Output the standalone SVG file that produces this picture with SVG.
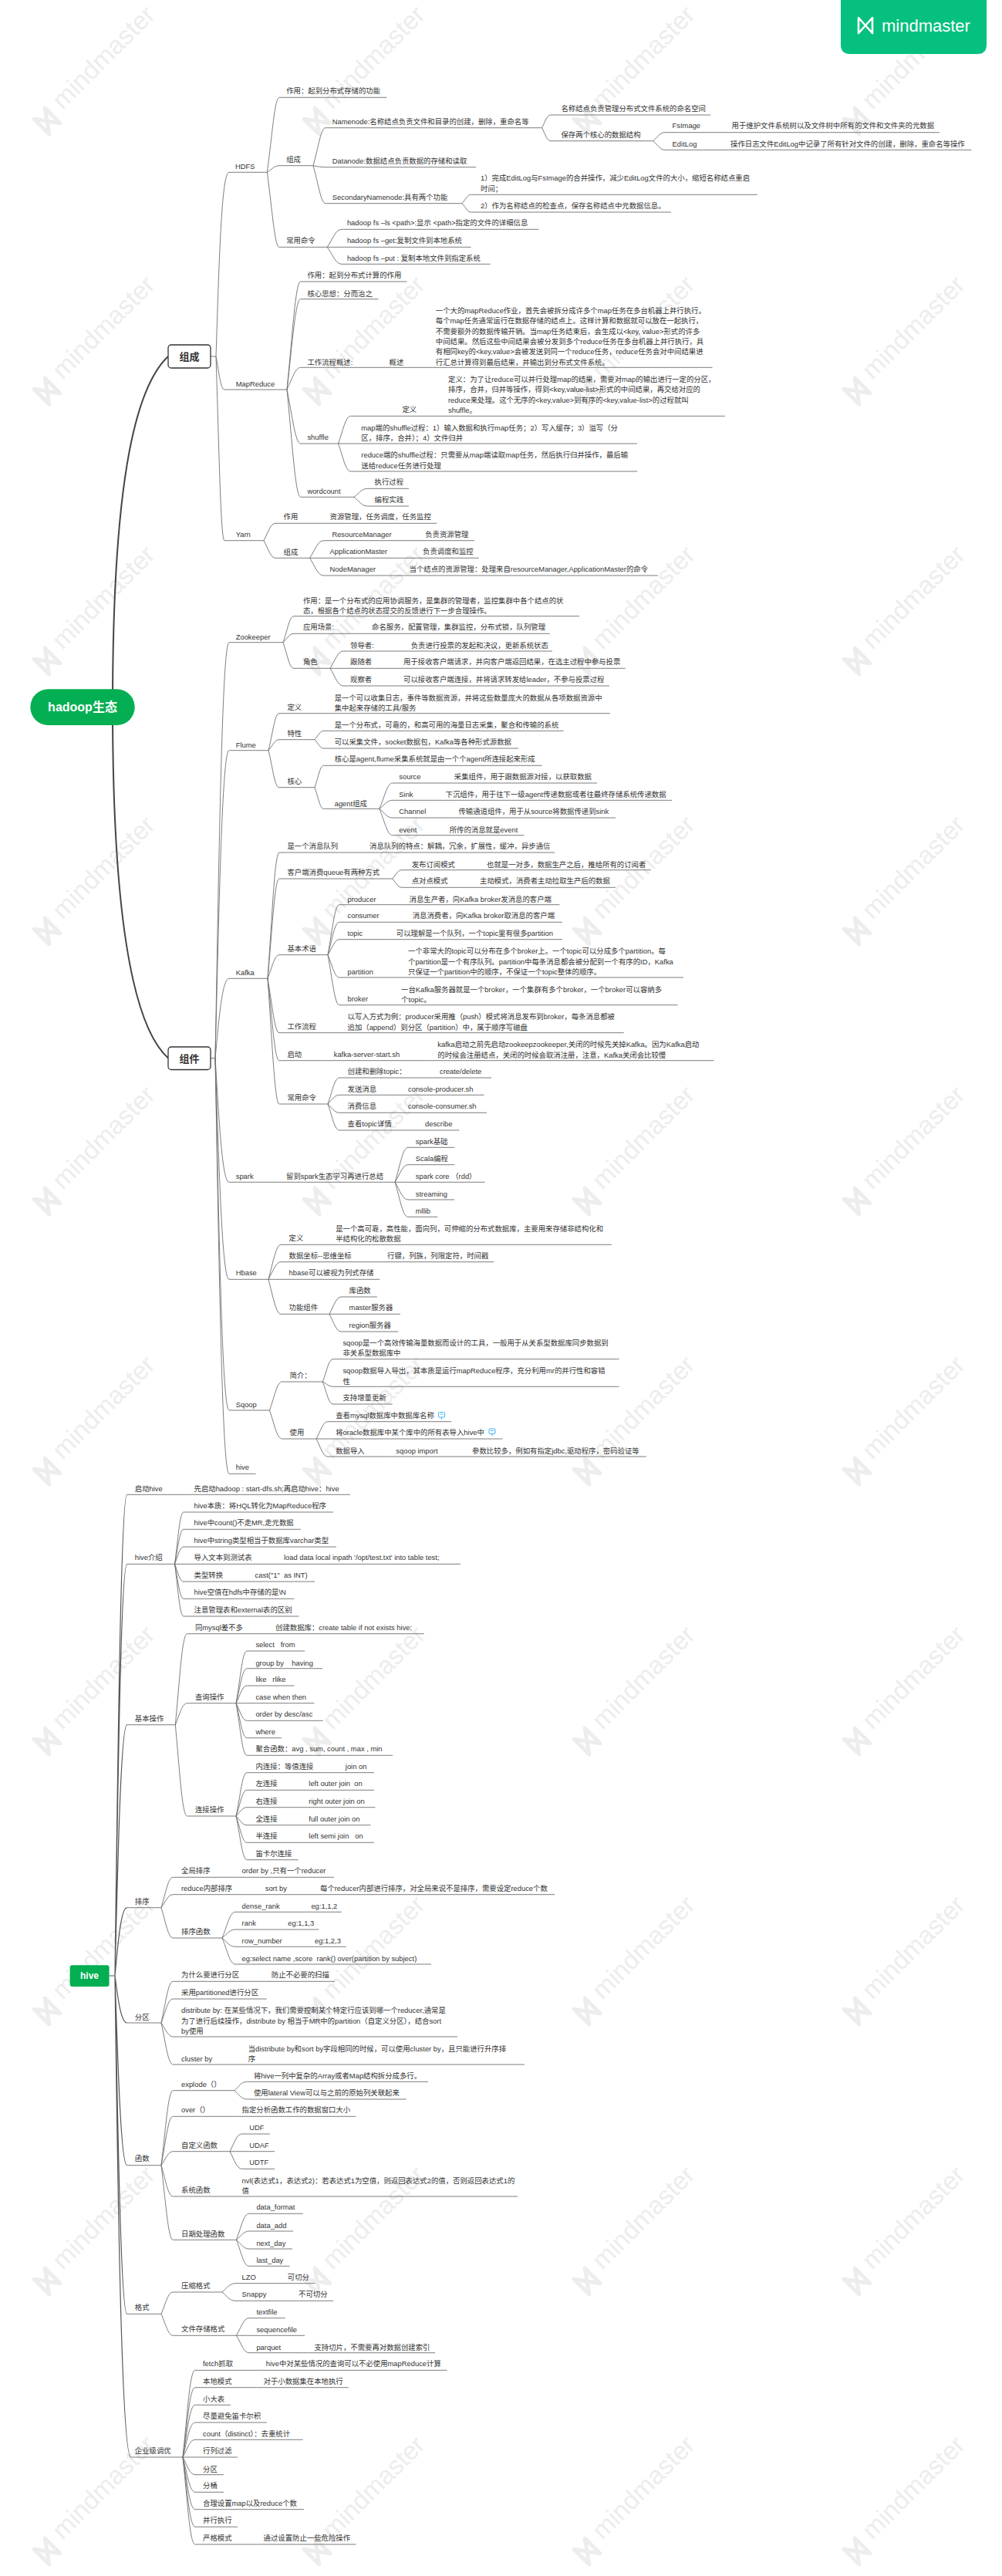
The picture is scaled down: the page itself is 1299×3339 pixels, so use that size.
<svg xmlns="http://www.w3.org/2000/svg" xmlns:xlink="http://www.w3.org/1999/xlink" width="1299" height="3339" viewBox="0 0 1299 3339">
<style>
text{font-family:"Liberation Sans","Noto Sans CJK SC",sans-serif;font-size:9.4px;fill:#333;dominant-baseline:central;white-space:pre}
#nodes path{fill:none;stroke:#6e6e6e;stroke-width:.9}
#connectors path{fill:none;stroke:#6e6e6e;stroke-width:.9}
#connectors .t{stroke:#444;stroke-width:2}
#connectors .h{stroke:#555;stroke-width:1.2}
.box{fill:#fff;stroke:#333;stroke-width:1.3}
.big{font-size:13px;font-weight:bold;text-anchor:middle}
.wt{font-size:33px;fill:#ededed;dominant-baseline:auto}
.wl{fill:none;stroke:#ededed;stroke-width:5;stroke-linejoin:round}
.note{fill:none;stroke:#3db4f2;stroke-width:1}
</style>
<defs>
<g id="wm"><path class="wl" d="M-10 -14L10 14V-14L-10 14Z" transform="rotate(-45)"/><text class="wt" transform="translate(20 -14) rotate(-45)">mindmaster</text></g>
</defs>
<rect width="1299" height="3339" fill="#fff"/>
<g id="watermark">
<use href="#wm" x="61" y="157"/><use href="#wm" x="411" y="157"/><use href="#wm" x="761" y="157"/><use href="#wm" x="1111" y="157"/>
<use href="#wm" x="61" y="507"/><use href="#wm" x="411" y="507"/><use href="#wm" x="761" y="507"/><use href="#wm" x="1111" y="507"/>
<use href="#wm" x="61" y="857"/><use href="#wm" x="411" y="857"/><use href="#wm" x="761" y="857"/><use href="#wm" x="1111" y="857"/>
<use href="#wm" x="61" y="1207"/><use href="#wm" x="411" y="1207"/><use href="#wm" x="761" y="1207"/><use href="#wm" x="1111" y="1207"/>
<use href="#wm" x="61" y="1557"/><use href="#wm" x="411" y="1557"/><use href="#wm" x="761" y="1557"/><use href="#wm" x="1111" y="1557"/>
<use href="#wm" x="61" y="1907"/><use href="#wm" x="411" y="1907"/><use href="#wm" x="761" y="1907"/><use href="#wm" x="1111" y="1907"/>
<use href="#wm" x="61" y="2257"/><use href="#wm" x="411" y="2257"/><use href="#wm" x="761" y="2257"/><use href="#wm" x="1111" y="2257"/>
<use href="#wm" x="61" y="2607"/><use href="#wm" x="411" y="2607"/><use href="#wm" x="761" y="2607"/><use href="#wm" x="1111" y="2607"/>
<use href="#wm" x="61" y="2957"/><use href="#wm" x="411" y="2957"/><use href="#wm" x="761" y="2957"/><use href="#wm" x="1111" y="2957"/>
<use href="#wm" x="61" y="3307"/><use href="#wm" x="411" y="3307"/><use href="#wm" x="761" y="3307"/><use href="#wm" x="1111" y="3307"/>
</g>
<g id="brand">
<path d="M1090 0H1279V58Q1279 70 1267 70H1102Q1090 70 1090 58Z" fill="#06c07f"/>
<path d="M1113 23L1131 43V23L1113 43Z" fill="none" stroke="#fff" stroke-width="2.6" stroke-linejoin="round"/>
<text x="1143" y="33" style="font-size:22px;fill:#fff">mindmaster</text>
</g>
<g id="connectors">
<path class="t" d="M146 916C146 640 172 505 218 462"/>
<path class="t" d="M146 916C146 1190 172 1330 218 1371.5"/>
<path d="M273 462H280M280 462C284 342 287 223.3 297 223.3M280 462C284 483 286 505 291 505M280 462C284 581 286 700.7 291 700.7"/>
<path d="M346.3 223.3C353 175 356 126.3 362 126.3M346.3 223.3C353 219 356 214.7 362 214.7M346.3 223.3C353 272 356 320.3 362 320.3"/>
<path d="M406 214.7C413 190 416 165.7 422 165.7M406 214.7C413 216 416 216.7 422 216.7M406 214.7C413 239 416 263.7 422 263.7"/>
<path d="M702.6 165.7C707 157 709 149 714 149M702.6 165.7C707 174 709 182.7 714 182.7"/>
<path d="M846.7 182.7C853 177 856 171.7 861.6 171.7M846.7 182.7C853 188 856 194.3 861.6 194.3"/>
<path d="M599 263.7C604 258 606 252.3 610.6 252.3M599 263.7C604 269 606 275 610.6 275"/>
<path d="M424.2 320.3C432 309 435 297.3 443 297.3M424.2 320.3H443M424.2 320.3C432 331 435 342.3 443 342.3"/>
<path d="M372 505C379 435 383 365 389.7 365M372 505C379 446 383 387.7 389.7 387.7M372 505C379 490 383 476.3 389.7 476.3M372 505C379 540 383 575 389.7 575M372 505C379 575 383 644.3 389.7 644.3"/>
<path d="M438.5 575C445 557 448 539.3 454.7 539.3M438.5 575H454.7M438.5 575C445 593 448 611 454.7 611"/>
<path d="M459 644.3C466 639 469 633.3 476.4 633.3M459 644.3C466 650 469 656 476.4 656"/>
<path d="M342 700.7C348 689 351 678.3 357 678.3M342 700.7C348 712 351 723.3 357 723.3"/>
<path d="M401.6 723.3C409 712 412 700.7 419.5 700.7M401.6 723.3H419.5M401.6 723.3C409 735 412 746 419.5 746"/>
<path d="M273 1371.5H279M279 1371.5C284 1102 288 832.7 297 832.7M279 1371.5C284 1172 288 972.7 297 972.7M279 1371.5C284 1320 288 1268.3 297 1268.3M279 1371.5C284 1452 288 1532.3 297 1532.3M279 1371.5C284 1515 288 1658.3 297 1658.3M279 1371.5C284 1600 288 1828 297 1828M279 1371.5C284 1641 288 1910.3 297 1910.3"/>
<path d="M367 832.7C373 816 375 798.7 381 798.7M367 832.7C373 827 375 821.3 381 821.3M367 832.7C373 850 375 866.3 381 866.3"/>
<path d="M428 866.3C435 855 438 844 445 844M428 866.3H445M428 866.3C435 878 438 889 445 889"/>
<path d="M348 972.7C354 949 356 924.7 362 924.7M348 972.7C354 966 356 958.7 362 958.7M348 972.7C354 997 356 1020.7 362 1020.7"/>
<path d="M408 958.7C413 953 415 947.3 419.4 947.3M408 958.7C413 964 415 970 419.4 970"/>
<path d="M408 1020.7C413 1006 415 992.3 419.4 992.3M408 1020.7C413 1035 415 1048.3 419.4 1048.3"/>
<path d="M491.8 1048.3C499 1032 502 1015 508.7 1015M491.8 1048.3C499 1043 502 1037.3 508.7 1037.3M491.8 1048.3C499 1054 502 1060 508.7 1060M491.8 1048.3C499 1065 502 1082.7 508.7 1082.7"/>
<path d="M347 1268.3C353 1187 356 1105 362 1105M347 1268.3C353 1204 356 1139 362 1139M347 1268.3C353 1253 356 1237.7 362 1237.7M347 1268.3C353 1303 356 1338.7 362 1338.7M347 1268.3C353 1321 356 1374.7 362 1374.7M347 1268.3C353 1350 356 1431 362 1431"/>
<path d="M508.7 1139C514 1133 516 1127.7 521 1127.7M508.7 1139C514 1145 516 1150.3 521 1150.3"/>
<path d="M425 1237.7C431 1205 434 1172.7 439.8 1172.7M425 1237.7C431 1216 434 1195.3 439.8 1195.3M425 1237.7C431 1228 434 1217.7 439.8 1217.7M425 1237.7C431 1252 434 1267 439.8 1267M425 1237.7C431 1270 434 1302.7 439.8 1302.7"/>
<path d="M425 1431C431 1414 434 1397 439.8 1397M425 1431C431 1425 434 1419.3 439.8 1419.3M425 1431C431 1437 434 1442.3 439.8 1442.3M425 1431C431 1448 434 1465 439.8 1465"/>
<path d="M512 1532.3C519 1510 522 1487.3 529 1487.3M512 1532.3C519 1521 522 1509.7 529 1509.7M512 1532.3H529M512 1532.3C519 1544 522 1555 529 1555M512 1532.3C519 1555 522 1577.3 529 1577.3"/>
<path d="M348 1658.3C354 1636 358 1613.3 364 1613.3M348 1658.3C354 1647 358 1635.7 364 1635.7M348 1658.3H364M348 1658.3C354 1681 358 1703.3 364 1703.3"/>
<path d="M427 1703.3C433 1692 436 1681 442.3 1681M427 1703.3H442.3M427 1703.3C433 1715 436 1726 442.3 1726"/>
<path d="M349.5 1828C356 1810 359 1791 365.8 1791M349.5 1828C356 1847 359 1865 365.8 1865"/>
<path d="M418.4 1791C424 1776 426 1761.7 432 1761.7M418.4 1791C424 1794 426 1797.3 432 1797.3M418.4 1791C424 1806 426 1820 432 1820"/>
<path d="M410 1865C416 1854 419 1842.7 424.5 1842.7M410 1865H424.5M410 1865C416 1877 419 1888 424.5 1888"/>
<path class="h" d="M141.6 2561H149M149 2561C153 2249 157 1937.3 164.6 1937.3M149 2561C153 2294 157 2027.3 164.6 2027.3M149 2561C153 2398 157 2235.7 164.6 2235.7M149 2561C153 2517 157 2472.7 164.6 2472.7M149 2561C153 2592 157 2622 164.6 2622M149 2561C153 2684 157 2806.7 164.6 2806.7M149 2561C153 2780 157 2999.3 164.6 2999.3M149 2561C153 2873 158 3185 169.7 3185"/>
<path d="M226.5 2027.3C231 1994 233 1960 238 1960M226.5 2027.3C231 2005 233 1982.3 238 1982.3M226.5 2027.3C231 2016 233 2005 238 2005M226.5 2027.3H238M226.5 2027.3C231 2039 233 2050 238 2050M226.5 2027.3C231 2050 233 2072.3 238 2072.3M226.5 2027.3C231 2061 233 2095 238 2095"/>
<path d="M227.3 2235.7C233 2177 236 2117.7 242.7 2117.7M227.3 2235.7C233 2222 236 2207.7 242.7 2207.7M227.3 2235.7C233 2295 236 2354 242.7 2354"/>
<path d="M306 2207.7C312 2174 314 2140 320.2 2140M306 2207.7C312 2185 314 2162.7 320.2 2162.7M306 2207.7C312 2196 314 2185 320.2 2185M306 2207.7H320.2M306 2207.7C312 2219 314 2230.3 320.2 2230.3M306 2207.7C312 2230 314 2252.7 320.2 2252.7M306 2207.7C312 2241 314 2275.3 320.2 2275.3"/>
<path d="M306 2354C312 2326 314 2297.7 320.2 2297.7M306 2354C312 2337 314 2320.3 320.2 2320.3M306 2354C312 2348 314 2342.7 320.2 2342.7M306 2354C312 2360 314 2365.7 320.2 2365.7M306 2354C312 2371 314 2388.3 320.2 2388.3M306 2354C312 2382 314 2410.7 320.2 2410.7"/>
<path d="M209 2472.7C215 2453 218 2433.3 224.3 2433.3M209 2472.7C215 2464 218 2455.7 224.3 2455.7M209 2472.7C215 2492 218 2512 224.3 2512"/>
<path d="M288 2512C295 2495 298 2478.3 305 2478.3M288 2512C295 2506 298 2501 305 2501M288 2512C295 2518 298 2523.3 305 2523.3M288 2512C295 2529 298 2546 305 2546"/>
<path d="M209 2622C215 2595 218 2568.3 224.3 2568.3M209 2622C215 2606 218 2591 224.3 2591M209 2622C215 2631 218 2640 224.3 2640M209 2622C215 2649 218 2676 224.3 2676"/>
<path d="M209 2806.7C215 2758 218 2709.7 224.3 2709.7M209 2806.7C215 2775 218 2743.3 224.3 2743.3M209 2806.7C215 2798 218 2788.7 224.3 2788.7M209 2806.7C215 2827 218 2847 224.3 2847M209 2806.7C215 2855 218 2903.3 224.3 2903.3"/>
<path d="M304 2709.7C310 2704 313 2698.3 320.2 2698.3M304 2709.7C310 2715 313 2721 320.2 2721"/>
<path d="M298 2788.7C304 2777 307 2766 313.6 2766M298 2788.7H313.6M298 2788.7C304 2800 307 2811.3 313.6 2811.3"/>
<path d="M306.4 2903.3C313 2886 316 2869.3 322.8 2869.3M306.4 2903.3C313 2898 316 2892 322.8 2892M306.4 2903.3C313 2909 316 2915 322.8 2915M306.4 2903.3C313 2920 316 2937.3 322.8 2937.3"/>
<path d="M209 2999.3C215 2985 218 2971 224.3 2971M209 2999.3C215 3013 218 3027.3 224.3 3027.3"/>
<path d="M288 2971C295 2965 298 2959.7 305 2959.7M288 2971C295 2977 298 2982.3 305 2982.3"/>
<path d="M306.4 3027.3C313 3016 316 3004.7 322.8 3004.7M306.4 3027.3H322.8M306.4 3027.3C313 3038 316 3049.7 322.8 3049.7"/>
<path d="M237 3185C243 3129 246 3072.3 252.9 3072.3M237 3185C243 3140 246 3094.7 252.9 3094.7M237 3185C243 3151 246 3117.3 252.9 3117.3M237 3185C243 3162 246 3140 252.9 3140M237 3185C243 3174 246 3162.3 252.9 3162.3M237 3185H252.9M237 3185C243 3196 246 3207.7 252.9 3207.7M237 3185C243 3208 246 3230.3 252.9 3230.3M237 3185C243 3219 246 3252.7 252.9 3252.7M237 3185C243 3230 246 3275.3 252.9 3275.3M237 3185C243 3241 246 3298 252.9 3298"/>
</g>
<g id="nodes">
<g id="root"><rect x="39.3" y="893.3" width="135.4" height="46.7" rx="23.3" fill="#03af52"/><text x="107" y="916.5" text-anchor="middle" style="font-size:16px;font-weight:bold;fill:#fff">hadoop生态</text></g>
<g id="b1"><rect class="box" x="218" y="447" width="55" height="30" rx="4"/><text class="big" x="245.5" y="462">组成</text></g>
<g id="b2"><rect class="box" x="218" y="1357" width="55" height="29.5" rx="4"/><text class="big" x="245.5" y="1372">组件</text></g>
<g id="hdfs"><text x="305" y="215">HDFS</text><path d="M297 223.3H346.3"/></g>
<g id="n1"><text x="371.2" y="117">作用：起到分布式存储的功能</text><path d="M362 126.3H501.2"/></g>
<g id="n2"><text x="371.2" y="206.7">组成</text><path d="M362 214.7H406"/></g>
<g id="n3"><text x="430.8" y="157.7">Namenode:名称结点负责文件和目录的创建，删除，重命名等</text><path d="M422 165.7H702.6"/></g>
<g id="n4"><text x="430.8" y="208.7">Datanode:数据结点负责数据的存储和读取</text><path d="M422 216.7H617.2"/></g>
<g id="n5"><text x="430.8" y="255.7">SecondaryNamenode:具有两个功能</text><path d="M422 263.7H599"/></g>
<g id="n6"><text x="727.4" y="140.7">名称结点负责管理分布式文件系统的命名空间</text><path d="M714 149H921.3"/></g>
<g id="n7"><text x="727.4" y="174.7">保存两个核心的数据结构</text><path d="M714 182.7H846.7"/></g>
<g id="n8"><text x="871.6" y="162.7">FsImage</text><path d="M861.6 171.7H940.6"/></g>
<g id="n9"><text x="948.6" y="162.7">用于维护文件系统树以及文件树中所有的文件和文件夹的元数据</text><path d="M940.6 171.7H1217.9"/></g>
<g id="n10"><text x="871.6" y="186">EditLog</text><path d="M861.6 194.3H939"/></g>
<g id="n11"><text x="947" y="186">操作日志文件EditLog中记录了所有针对文件的创建，删除，重命名等操作</text><path d="M939 194.3H1259.3"/></g>
<g id="n12"><text x="623"><tspan x="623" y="230.3">1）完成EditLog与FsImage的合并操作，减少EditLog文件的大小，缩短名称结点重启</tspan><tspan x="623" y="243.7">时间；</tspan></text><path d="M610.6 252.3H981.8"/></g>
<g id="n13"><text x="623" y="266.7">2）作为名称结点的检查点，保存名称结点中元数据信息。</text><path d="M610.6 275H870"/></g>
<g id="n14"><text x="371.2" y="311.7">常用命令</text><path d="M362 320.3H424.2"/></g>
<g id="n15"><text x="449.9" y="288.7">hadoop fs –ls &lt;path&gt;:显示 &lt;path&gt;指定的文件的详细信息</text><path d="M443 297.3H698.4"/></g>
<g id="n16"><text x="449.9" y="311.7">hadoop fs –get:复制文件到本地系统</text><path d="M443 320.3H610.6"/></g>
<g id="n17"><text x="449.9" y="334.7">hadoop fs –put : 复制本地文件到指定系统</text><path d="M443 342.3H635.5"/></g>
<g id="mr"><text x="305.7" y="497">MapReduce</text><path d="M291 505H372"/></g>
<g id="n18"><text x="398.4" y="356.7">作用：起到分布式计算的作用</text><path d="M389.7 365H527.4"/></g>
<g id="n19"><text x="398.4" y="380">核心思想：分而治之</text><path d="M389.7 387.7H490.5"/></g>
<g id="n20"><text x="398.4" y="469.3">工作流程概述:</text><path d="M389.7 476.3H496"/></g>
<g id="n21"><text x="504.6" y="469.3">概述</text><path d="M496 476.3H556"/></g>
<g id="n22"><text><tspan x="564.8" y="402">一个大的mapReduce作业，首先会被拆分成许多个map任务在多台机器上并行执行。</tspan><tspan x="564.8" y="415.3">每个map任务通常运行在数据存储的结点上。这样计算和数据就可以放在一起执行，</tspan><tspan x="564.8" y="428.7">不需要额外的数据传输开销。当map任务结束后，会生成以&lt;key, value&gt;形式的许多</tspan><tspan x="564.8" y="441.7">中间结果。然后这些中间结果会被分发到多个reduce任务在多台机器上并行执行，具</tspan><tspan x="564.8" y="455">有相同key的&lt;key,value&gt;会被发送到同一个reduce任务，reduce任务会对中间结果进</tspan><tspan x="564.8" y="468.7">行汇总计算得到最后结果，并输出到分布式文件系统。</tspan></text><path d="M556 476.3H923.6"/></g>
<g id="n23"><text x="398.4" y="566.7">shuffle</text><path d="M389.7 575H438.5"/></g>
<g id="n24"><text x="521.4" y="530.7">定义</text><path d="M454.7 539.3H573"/></g>
<g id="n25"><text><tspan x="581" y="491">定义：为了让reduce可以并行处理map的结果，需要对map的输出进行一定的分区，</tspan><tspan x="581" y="504">排序，合并，归并等操作，得到&lt;key,value-list&gt;形式的中间结果，再交给对应的</tspan><tspan x="581" y="517.7">reduce来处理。这个无序的&lt;key,value&gt;到有序的&lt;key,value-list&gt;的过程就叫</tspan><tspan x="581" y="530.7">shuffle。</tspan></text><path d="M573 539.3H939.8"/></g>
<g id="n26"><text><tspan x="468.3" y="553.7">map端的shuffle过程：1）输入数据和执行map任务；2）写入缓存；3）溢写（分</tspan><tspan x="468.3" y="566.7">区，排序，合并）；4）文件归并</tspan></text><path d="M454.7 575H826"/></g>
<g id="n27"><text><tspan x="468.3" y="589">reduce端的shuffle过程：只需要从map端读取map任务，然后执行归并操作，最后输</tspan><tspan x="468.3" y="602.7">送给reduce任务进行处理</tspan></text><path d="M454.7 611H826"/></g>
<g id="n28"><text x="398.4" y="636.7">wordcount</text><path d="M389.7 644.3H459"/></g>
<g id="n29"><text x="485.6" y="624.7">执行过程</text><path d="M476.4 633.3H530"/></g>
<g id="n30"><text x="485.6" y="647.7">编程实践</text><path d="M476.4 656H530"/></g>
<g id="yarn"><text x="305.7" y="692.7">Yarn</text><path d="M291 700.7H342"/></g>
<g id="n31"><text x="367.5" y="669.7">作用</text><path d="M357 678.3H419.6"/></g>
<g id="n32"><text x="427.6" y="669.7">资源管理，任务调度，任务监控</text><path d="M419.6 678.3H566.4"/></g>
<g id="n33"><text x="367.5" y="715">组成</text><path d="M357 723.3H401.6"/></g>
<g id="n34"><text x="430.4" y="692.7">ResourceManager</text><path d="M419.5 700.7H543"/></g>
<g id="n35"><text x="551.2" y="692.7">负责资源管理</text><path d="M543 700.7H615"/></g>
<g id="n36"><text x="427.6" y="714.7">ApplicationMaster</text><path d="M419.5 723.3H540"/></g>
<g id="n37"><text x="548" y="714.7">负责调度和监控</text><path d="M540 723.3H620.6"/></g>
<g id="n38"><text x="427.6" y="737.7">NodeManager</text><path d="M419.5 746H522.6"/></g>
<g id="n39"><text x="530.6" y="737.7">当个结点的资源管理：处理来自resourceManager,ApplicationMaster的命令</text><path d="M522.6 746H853"/></g>
<g id="zk"><text x="305.7" y="825">Zookeeper</text><path d="M297 832.7H367"/></g>
<g id="n40"><text><tspan x="392.9" y="777.7">作用：是一个分布式的应用协调服务，是集群的管理者，监控集群中各个结点的状</tspan><tspan x="392.9" y="790.7">态，根据各个结点的状态提交的反馈进行下一步合理操作。</tspan></text><path d="M381 798.7H751"/></g>
<g id="n41"><text x="392.9" y="812.7">应用场景:</text><path d="M381 821.3H474"/></g>
<g id="n42"><text x="482" y="812.7">命名服务，配置管理，集群监控，分布式锁，队列管理</text><path d="M474 821.3H712.8"/></g>
<g id="n43"><text x="392.9" y="857.3">角色</text><path d="M381 866.3H428"/></g>
<g id="n44"><text x="454" y="836">领导者:</text><path d="M445 844H524.7"/></g>
<g id="n45"><text x="532.7" y="836">负责进行投票的发起和决议，更新系统状态</text><path d="M524.7 844H716"/></g>
<g id="n46"><text x="454" y="857.3">跟随者</text><path d="M445 866.3H515"/></g>
<g id="n47"><text x="523" y="857.3">用于接收客户端请求，并向客户端返回结果，在选主过程中参与投票</text><path d="M515 866.3H810.7"/></g>
<g id="n48"><text x="454" y="880.7">观察者</text><path d="M445 889H515"/></g>
<g id="n49"><text x="523" y="880.7">可以接收客户端连接，并将请求转发给leader，不参与投票过程</text><path d="M515 889H790"/></g>
<g id="flume"><text x="305.7" y="965">Flume</text><path d="M297 972.7H348"/></g>
<g id="n50"><text x="372.4" y="916.7">定义</text><path d="M362 924.7H426"/></g>
<g id="n51"><text><tspan x="433.7" y="903.7">是一个可以收集日志，事件等数据资源，并将这些数量庞大的数据从各项数据资源中</tspan><tspan x="433.7" y="917">集中起来存储的工具/服务</tspan></text><path d="M426 924.7H790.8"/></g>
<g id="n52"><text x="372.4" y="950.7">特性</text><path d="M362 958.7H408"/></g>
<g id="n53"><text x="433.7" y="939">是一个分布式，可靠的，和高可用的海量日志采集，聚合和传输的系统</text><path d="M419.4 947.3H730.6"/></g>
<g id="n54"><text x="433.7" y="961.7">可以采集文件，socket数据包，Kafka等各种形式源数据</text><path d="M419.4 970H672"/></g>
<g id="n55"><text x="372.4" y="1012.7">核心</text><path d="M362 1020.7H408"/></g>
<g id="n56"><text x="433.7" y="983.7">核心是agent,flume采集系统就是由一个个agent所连接起来形成</text><path d="M419.4 992.3H702.6"/></g>
<g id="n57"><text x="433.7" y="1041">agent组成</text><path d="M419.4 1048.3H491.8"/></g>
<g id="n58"><text x="517.3" y="1006.7">source</text><path d="M508.7 1015H580.8"/></g>
<g id="n59"><text x="588.8" y="1006.7">采集组件，用于跟数据源对接，以获取数据</text><path d="M580.8 1015H774"/></g>
<g id="n60"><text x="517.3" y="1029.7">Sink</text><path d="M508.7 1037.3H569.6"/></g>
<g id="n61"><text x="577.6" y="1029.7">下沉组件，用于往下一级agent传递数据或者往最终存储系统传递数据</text><path d="M569.6 1037.3H871"/></g>
<g id="n62"><text x="517.3" y="1051.7">Channel</text><path d="M508.7 1060H586.4"/></g>
<g id="n63"><text x="594.4" y="1051.7">传输通道组件，用于从source将数据传递到sink</text><path d="M586.4 1060H798"/></g>
<g id="n64"><text x="517.3" y="1075">event</text><path d="M508.7 1082.7H574.7"/></g>
<g id="n65"><text x="582.7" y="1075">所传的消息就是event</text><path d="M574.7 1082.7H679.6"/></g>
<g id="kafka"><text x="305.7" y="1260">Kafka</text><path d="M297 1268.3H347"/></g>
<g id="n66"><text x="372.4" y="1096.7">是一个消息队列</text><path d="M362 1105H471"/></g>
<g id="n67"><text x="479" y="1096.7">消息队列的特点：解耦，冗余，扩展性，缓冲，异步通信</text><path d="M471 1105H719.4"/></g>
<g id="n68"><text x="372.4" y="1130.7">客户端消费queue有两种方式</text><path d="M362 1139H508.7"/></g>
<g id="n69"><text x="533.7" y="1120">发布订阅模式</text><path d="M521 1127.7H623"/></g>
<g id="n70"><text x="631" y="1120">也就是一对多，数据生产之后，推给所有的订阅者</text><path d="M623 1127.7H843.9"/></g>
<g id="n71"><text x="533.7" y="1141.7">点对点模式</text><path d="M521 1150.3H614"/></g>
<g id="n72"><text x="622" y="1141.7">主动模式，消费者主动拉取生产后的数据</text><path d="M614 1150.3H798"/></g>
<g id="n73"><text x="372.4" y="1229.7">基本术语</text><path d="M362 1237.7H425"/></g>
<g id="n74"><text x="450.5" y="1165">producer</text><path d="M439.8 1172.7H522.6"/></g>
<g id="n75"><text x="530.6" y="1165">消息生产者，向Kafka broker发消息的客户端</text><path d="M522.6 1172.7H725.5"/></g>
<g id="n76"><text x="450.5" y="1186.7">consumer</text><path d="M439.8 1195.3H526.7"/></g>
<g id="n77"><text x="534.7" y="1186.7">消息消费者，向Kafka broker取消息的客户端</text><path d="M526.7 1195.3H729"/></g>
<g id="n78"><text x="450.5" y="1209.7">topic</text><path d="M439.8 1217.7H505.8"/></g>
<g id="n79"><text x="513.8" y="1209.7">可以理解是一个队列，一个topic里有很多partition</text><path d="M505.8 1217.7H729"/></g>
<g id="n80"><text x="450.5" y="1259">partition</text><path d="M439.8 1267H521"/></g>
<g id="n81"><text><tspan x="529" y="1232">一个非常大的topic可以分布在多个broker上。一个topic可以分成多个partition。每</tspan><tspan x="529" y="1245.7">个partition是一个有序队列。partition中每条消息都会被分配到一个有序的ID，Kafka</tspan><tspan x="529" y="1259">只保证一个partition中的顺序，不保证一个topic整体的顺序。</tspan></text><path d="M521 1267H886"/></g>
<g id="n82"><text x="450.5" y="1294.7">broker</text><path d="M439.8 1302.7H512"/></g>
<g id="n83"><text><tspan x="520" y="1281.7">一台Kafka服务器就是一个broker，一个集群有多个broker，一个broker可以容纳多</tspan><tspan x="520" y="1295">个topic。</tspan></text><path d="M512 1302.7H878.6"/></g>
<g id="n84"><text x="372.4" y="1330.7">工作流程</text><path d="M362 1338.7H442.5"/></g>
<g id="n85"><text><tspan x="450.5" y="1317">以写入方式为例：producer采用推（push）模式将消息发布到broker，每条消息都被</tspan><tspan x="450.5" y="1330.7">追加（append）到分区（partition）中，属于顺序写磁盘</tspan></text><path d="M442.5 1338.7H808.7"/></g>
<g id="n86"><text x="372.4" y="1366.7">启动</text><path d="M362 1374.7H424.7"/></g>
<g id="n87"><text x="432.7" y="1366.7">kafka-server-start.sh</text><path d="M424.7 1374.7H559.3"/></g>
<g id="n88"><text><tspan x="567.3" y="1353">kafka启动之前先启动zookeepzookeeper,关闭的时候先关掉Kafka。因为Kafka启动</tspan><tspan x="567.3" y="1366.7">的时候会注册结点，关闭的时候会取消注册，注意，Kafka关闭会比较慢</tspan></text><path d="M559.3 1374.7H925.5"/></g>
<g id="n89"><text x="372.4" y="1422.3">常用命令</text><path d="M362 1431H425"/></g>
<g id="n90"><text x="450.5" y="1388.7">创建和删除topic：</text><path d="M439.8 1397H562"/></g>
<g id="n91"><text x="570" y="1388.7">create/delete</text><path d="M562 1397H637"/></g>
<g id="n92"><text x="450.5" y="1411.7">发送消息</text><path d="M439.8 1419.3H521"/></g>
<g id="n93"><text x="529" y="1411.7">console-producer.sh</text><path d="M521 1419.3H627.6"/></g>
<g id="n94"><text x="450.5" y="1433.7">消费信息</text><path d="M439.8 1442.3H521"/></g>
<g id="n95"><text x="529" y="1433.7">console-consumer.sh</text><path d="M521 1442.3H631"/></g>
<g id="n96"><text x="450.5" y="1456.7">查看topic详情</text><path d="M439.8 1465H543"/></g>
<g id="n97"><text x="551" y="1456.7">describe</text><path d="M543 1465H595.4"/></g>
<g id="spark"><text x="305.7" y="1524">spark</text><path d="M297 1532.3H363"/></g>
<g id="n98"><text x="371" y="1524">留到spark生态学习再进行总结</text><path d="M363 1532.3H512"/></g>
<g id="n99"><text x="538.8" y="1479">spark基础</text><path d="M529 1487.3H589.3"/></g>
<g id="n100"><text x="538.8" y="1501.7">Scala编程</text><path d="M529 1509.7H589.3"/></g>
<g id="n101"><text x="538.8" y="1524">spark core （rdd）</text><path d="M529 1532.3H628.6"/></g>
<g id="n102"><text x="538.8" y="1547">streaming</text><path d="M529 1555H589.3"/></g>
<g id="n103"><text x="538.8" y="1569">mllib</text><path d="M529 1577.3H567.3"/></g>
<g id="hbase"><text x="305.7" y="1649.7">Hbase</text><path d="M297 1658.3H348"/></g>
<g id="n104"><text x="374.5" y="1604.7">定义</text><path d="M364 1613.3H427.2"/></g>
<g id="n105"><text><tspan x="435.2" y="1591.7">是一个高可靠，高性能，面向列，可伸缩的分布式数据库，主要用来存储非结构化和</tspan><tspan x="435.2" y="1604.7">半结构化的松散数据</tspan></text><path d="M427.2 1613.3H792.9"/></g>
<g id="n106"><text x="374.5" y="1627.7">数据坐标--思维坐标</text><path d="M364 1635.7H494"/></g>
<g id="n107"><text x="502" y="1627.7">行键，列族，列限定符，时间戳</text><path d="M494 1635.7H640.3"/></g>
<g id="n108"><text x="374.5" y="1649.7">hbase可以被视为列式存储</text><path d="M364 1658.3H492.3"/></g>
<g id="n109"><text x="374.5" y="1694.7">功能组件</text><path d="M364 1703.3H427"/></g>
<g id="n110"><text x="452.6" y="1672.7">库函数</text><path d="M442.3 1681H488.8"/></g>
<g id="n111"><text x="452.6" y="1694.7">master服务器</text><path d="M442.3 1703.3H518.9"/></g>
<g id="n112"><text x="452.6" y="1717.7">region服务器</text><path d="M442.3 1726H516.3"/></g>
<g id="sqoop"><text x="305.7" y="1820">Sqoop</text><path d="M297 1828H349.5"/></g>
<g id="n113"><text x="375.5" y="1782.7">简介：</text><path d="M365.8 1791H418.4"/></g>
<g id="n114"><text><tspan x="444.4" y="1740">sqoop是一个高效传输海量数据而设计的工具，一般用于从关系型数据库同步数据到</tspan><tspan x="444.4" y="1753.3">非关系型数据库中</tspan></text><path d="M432 1761.7H802.6"/></g>
<g id="n115"><text><tspan x="444.4" y="1775.7">sqoop数据导入导出，其本质是运行mapReduce程序，充分利用mr的并行性和容错</tspan><tspan x="444.4" y="1789.7">性</tspan></text><path d="M432 1797.3H802.6"/></g>
<g id="n116"><text x="444.4" y="1811.7">支持增量更新</text><path d="M432 1820H508.7"/></g>
<g id="n117"><text x="375.5" y="1856.7">使用</text><path d="M365.8 1865H410"/></g>
<g id="n118"><text x="435.2" y="1834.7">查看mysql数据库中数据库名称</text><path d="M424.5 1842.7H585.2"/><rect class="note" x="568.5" y="1830.5" width="8" height="6.5" rx="1"/><path class="note" style="stroke:#3db4f2" d="M570.5 1833H574.5M572.5 1837V1840"/></g>
<g id="n119"><text x="435.2" y="1856.7">将oracle数据库中某个库中的所有表导入hive中</text><path d="M424.5 1865H651.5"/><rect class="note" x="634" y="1852" width="8" height="6.5" rx="1"/><path class="note" style="stroke:#3db4f2" d="M636 1854.5H640M638 1858.5V1861.5"/></g>
<g id="n120"><text x="435.2" y="1880">数据导入</text><path d="M424.5 1888H505.3"/></g>
<g id="n121"><text x="513.3" y="1880">sqoop import</text><path d="M505.3 1888H604"/></g>
<g id="n122"><text x="612" y="1880">参数比较多，例如有指定jdbc,驱动程序，密码验证等</text><path d="M604 1888H837.8"/></g>
<g id="hive1"><text x="305.7" y="1901.7">hive</text><path d="M297 1910.3H331.6"/></g>
<g id="hive2"><rect x="90.6" y="2547.3" width="51" height="27.7" rx="3" fill="#03af52"/><text x="116" y="2561" text-anchor="middle" style="font-size:12px;font-weight:bold;fill:#fff">hive</text></g>
<g id="h1"><text x="174.8" y="1929">启动hive</text><path d="M164.6 1937.3H243.5"/></g>
<g id="h2"><text x="251.5" y="1929">先启动hadoop : start-dfs.sh;再启动hive：hive</text><path d="M243.5 1937.3H454"/></g>
<g id="h3"><text x="174.8" y="2018.7">hive介绍</text><path d="M164.6 2027.3H226.5"/></g>
<g id="h4"><text x="251.5" y="1951.7">hive本质：将HQL转化为MapReduce程序</text><path d="M238 1960H432"/></g>
<g id="h5"><text x="251.5" y="1973.7">hive中count()不走MR,走元数据</text><path d="M238 1982.3H389.8"/></g>
<g id="h6"><text x="251.5" y="1996.7">hive中string类型相当于数据库varchar类型</text><path d="M238 2005H436"/></g>
<g id="h7"><text x="251.5" y="2018.7">导入文本到测试表</text><path d="M238 2027.3H360"/></g>
<g id="h8"><text x="367.9" y="2018.7">load data local inpath '/opt/test.txt' into table test;</text><path d="M360 2027.3H597"/></g>
<g id="h9"><text x="251.5" y="2041.7">类型转换</text><path d="M238 2050H322.6"/></g>
<g id="h10"><text x="330.6" y="2041.7">cast("1"  as INT)</text><path d="M322.6 2050H408"/></g>
<g id="h11"><text x="251.5" y="2063.7">hive空值在hdfs中存储的是\N</text><path d="M238 2072.3H381.4"/></g>
<g id="h12"><text x="251.5" y="2086.7">注意管理表和external表的区别</text><path d="M238 2095H387.5"/></g>
<g id="h13"><text x="174.8" y="2227.7">基本操作</text><path d="M164.6 2235.7H227.3"/></g>
<g id="h14"><text x="252.9" y="2109.7">同mysql差不多</text><path d="M242.7 2117.7H349"/></g>
<g id="h15"><text x="357" y="2109.7">创建数据库：create table if not exists hive;</text><path d="M349 2117.7H549.8"/></g>
<g id="h16"><text x="252.9" y="2199.7">查询操作</text><path d="M242.7 2207.7H306"/></g>
<g id="h17"><text x="331.4" y="2131.7">select   from</text><path d="M320.2 2140H395.2"/></g>
<g id="h18"><text x="331.4" y="2155">group by    having</text><path d="M320.2 2162.7H418"/></g>
<g id="h19"><text x="331.4" y="2176.7">like   rlike</text><path d="M320.2 2185H381.4"/></g>
<g id="h20"><text x="331.4" y="2199.7">case when then</text><path d="M320.2 2207.7H407.4"/></g>
<g id="h21"><text x="331.4" y="2221.7">order by desc/asc</text><path d="M320.2 2230.3H418.7"/></g>
<g id="h22"><text x="331.4" y="2244.7">where</text><path d="M320.2 2252.7H365"/></g>
<g id="h23"><text x="331.4" y="2266.7">聚合函数：avg , sum, count , max , min</text><path d="M320.2 2275.3H509"/></g>
<g id="h24"><text x="252.9" y="2345.7">连接操作</text><path d="M242.7 2354H306"/></g>
<g id="h25"><text x="331.4" y="2289.7">内连接：等值连接</text><path d="M320.2 2297.7H440"/></g>
<g id="h26"><text x="447.8" y="2289.7">join on</text><path d="M440 2297.7H485"/></g>
<g id="h27"><text x="331.4" y="2311.7">左连接</text><path d="M320.2 2320.3H392.3"/></g>
<g id="h28"><text x="400.3" y="2311.7">left outer join  on</text><path d="M392.3 2320.3H485"/></g>
<g id="h29"><text x="331.4" y="2334.7">右连接</text><path d="M320.2 2342.7H392.3"/></g>
<g id="h30"><text x="400.3" y="2334.7">right outer join on</text><path d="M392.3 2342.7H486.5"/></g>
<g id="h31"><text x="331.4" y="2357.7">全连接</text><path d="M320.2 2365.7H392.3"/></g>
<g id="h32"><text x="400.3" y="2357.7">full outer join on</text><path d="M392.3 2365.7H480.4"/></g>
<g id="h33"><text x="331.4" y="2379.3">半连接</text><path d="M320.2 2388.3H392.3"/></g>
<g id="h34"><text x="400.3" y="2379.3">left semi join   on</text><path d="M392.3 2388.3H485"/></g>
<g id="h35"><text x="331.4" y="2402.7">笛卡尔连接</text><path d="M320.2 2410.7H386.5"/></g>
<g id="h36"><text x="174.8" y="2464.7">排序</text><path d="M164.6 2472.7H209"/></g>
<g id="h37"><text x="235" y="2424.7">全局排序</text><path d="M224.3 2433.3H305.6"/></g>
<g id="h38"><text x="313.6" y="2424.7">order by ,只有一个reducer</text><path d="M305.6 2433.3H433"/></g>
<g id="h39"><text x="235" y="2447.7">reduce内部排序</text><path d="M224.3 2455.7H335.7"/></g>
<g id="h40"><text x="343.7" y="2447.7">sort by</text><path d="M335.7 2455.7H407"/></g>
<g id="h41"><text x="415" y="2447.7">每个reducer内部进行排序，对全局来说不是排序，需要设定reduce个数</text><path d="M407 2455.7H719.2"/></g>
<g id="h42"><text x="235" y="2503.7">排序函数</text><path d="M224.3 2512H288"/></g>
<g id="h43"><text x="313.6" y="2470">dense_rank</text><path d="M305 2478.3H395.4"/></g>
<g id="h44"><text x="403.4" y="2470">eg:1,1,2</text><path d="M395.4 2478.3H442.7"/></g>
<g id="h45"><text x="313.6" y="2492.7">rank</text><path d="M305 2501H365.3"/></g>
<g id="h46"><text x="373.3" y="2492.7">eg:1,1,3</text><path d="M365.3 2501H413"/></g>
<g id="h47"><text x="313.6" y="2515">row_number</text><path d="M305 2523.3H400"/></g>
<g id="h48"><text x="408" y="2515">eg:1,2,3</text><path d="M400 2523.3H448.8"/></g>
<g id="h49"><text x="313.6" y="2538">eg:select name ,score  rank() over(partition by subject)</text><path d="M305 2546H559"/></g>
<g id="h50"><text x="174.8" y="2614">分区</text><path d="M164.6 2622H209"/></g>
<g id="h51"><text x="235" y="2559.7">为什么要进行分区</text><path d="M224.3 2568.3H343.8"/></g>
<g id="h52"><text x="351.8" y="2559.7">防止不必要的扫描</text><path d="M343.8 2568.3H434"/></g>
<g id="h53"><text x="235" y="2582.7">采用partitioned进行分区</text><path d="M224.3 2591H345.7"/></g>
<g id="h54"><text><tspan x="235" y="2604.7">distribute by: 在某些情况下，我们需要控制某个特定行应该到哪一个reducer,通常是</tspan><tspan x="235" y="2618.7">为了进行后续操作，distribute by 相当于MR中的partition（自定义分区），结合sort</tspan><tspan x="235" y="2631.7">by使用</tspan></text><path d="M224.3 2640H593"/></g>
<g id="h55"><text x="235" y="2668">cluster by</text><path d="M224.3 2676H313.7"/></g>
<g id="h56"><text><tspan x="321.7" y="2654.7">当distribute by和sort by字段相同的时候，可以使用cluster by，且只能进行升序排</tspan><tspan x="321.7" y="2668">序</tspan></text><path d="M313.7 2676H680"/></g>
<g id="h57"><text x="174.8" y="2797.3">函数</text><path d="M164.6 2806.7H209"/></g>
<g id="h58"><text x="235" y="2701.7">explode（）</text><path d="M224.3 2709.7H304"/></g>
<g id="h59"><text x="328.9" y="2690">将hive一列中复杂的Array或者Map结构拆分成多行。</text><path d="M320.2 2698.3H555"/></g>
<g id="h60"><text x="328.9" y="2712.7">使用lateral View可以与之前的原始列关联起来</text><path d="M320.2 2721H526.8"/></g>
<g id="h61"><text x="235" y="2734.7">over（）</text><path d="M224.3 2743.3H305.6"/></g>
<g id="h62"><text x="313.6" y="2734.7">指定分析函数工作的数据窗口大小</text><path d="M305.6 2743.3H461.5"/></g>
<g id="h63"><text x="235" y="2780.7">自定义函数</text><path d="M224.3 2788.7H298"/></g>
<g id="h64"><text x="323.3" y="2757.7">UDF</text><path d="M313.6 2766H349.8"/></g>
<g id="h65"><text x="323.3" y="2780.7">UDAF</text><path d="M313.6 2788.7H356"/></g>
<g id="h66"><text x="323.3" y="2802.7">UDTF</text><path d="M313.6 2811.3H356"/></g>
<g id="h67"><text x="235" y="2838.7">系统函数</text><path d="M224.3 2847H305.6"/></g>
<g id="h68"><text><tspan x="313.6" y="2825.7">nvl(表达式1，表达式2)：若表达式1为空值，则返回表达式2的值，否则返回表达式1的</tspan><tspan x="313.6" y="2838.7">值</tspan></text><path d="M305.6 2847H671"/></g>
<g id="h69"><text x="235" y="2895">日期处理函数</text><path d="M224.3 2903.3H306.4"/></g>
<g id="h70"><text x="332.4" y="2860.7">data_format</text><path d="M322.8 2869.3H392.7"/></g>
<g id="h71"><text x="332.4" y="2884">data_add</text><path d="M322.8 2892H380"/></g>
<g id="h72"><text x="332.4" y="2907">next_day</text><path d="M322.8 2915H379"/></g>
<g id="h73"><text x="332.4" y="2929">last_day</text><path d="M322.8 2937.3H375.3"/></g>
<g id="h74"><text x="174.8" y="2990.7">格式</text><path d="M164.6 2999.3H209"/></g>
<g id="h75"><text x="235" y="2962.7">压缩格式</text><path d="M224.3 2971H288"/></g>
<g id="h76"><text x="313.6" y="2951.7">LZO</text><path d="M305 2959.7H364.8"/></g>
<g id="h77"><text x="372.8" y="2951.7">可切分</text><path d="M364.8 2959.7H408.5"/></g>
<g id="h78"><text x="313.6" y="2973.7">Snappy</text><path d="M305 2982.3H379"/></g>
<g id="h79"><text x="387" y="2973.7">不可切分</text><path d="M379 2982.3H432"/></g>
<g id="h80"><text x="235" y="3018.3">文件存储格式</text><path d="M224.3 3027.3H306.4"/></g>
<g id="h81"><text x="332.4" y="2996.7">textfile</text><path d="M322.8 3004.7H369.7"/></g>
<g id="h82"><text x="332.4" y="3019">sequencefile</text><path d="M322.8 3027.3H395.2"/></g>
<g id="h83"><text x="332.4" y="3042">parquet</text><path d="M322.8 3049.7H399.4"/></g>
<g id="h84"><text x="407.4" y="3042">支持切片，不需要再对数据创建索引</text><path d="M399.4 3049.7H564"/></g>
<g id="h85"><text x="174.8" y="3176.7">企业级调优</text><path d="M169.7 3185H237"/></g>
<g id="h86"><text x="263" y="3063.7">fetch抓取</text><path d="M252.9 3072.3H336.7"/></g>
<g id="h87"><text x="344.7" y="3063.7">hive中对某些情况的查询可以不必使用mapReduce计算</text><path d="M336.7 3072.3H579.4"/></g>
<g id="h88"><text x="263" y="3086.7">本地模式</text><path d="M252.9 3094.7H333.6"/></g>
<g id="h89"><text x="341.6" y="3086.7">对于小数据集在本地执行</text><path d="M333.6 3094.7H451.8"/></g>
<g id="h90"><text x="263" y="3109">小大表</text><path d="M252.9 3117.3H298.8"/></g>
<g id="h91"><text x="263" y="3131.7">尽量避免笛卡尔积</text><path d="M252.9 3140H345.7"/></g>
<g id="h92"><text x="263" y="3154.7">count（distinct）：去重统计</text><path d="M252.9 3162.3H392.7"/></g>
<g id="h93"><text x="263" y="3176.7">行列过滤</text><path d="M252.9 3185H308"/></g>
<g id="h94"><text x="263" y="3200">分区</text><path d="M252.9 3207.7H290"/></g>
<g id="h95"><text x="263" y="3221.7">分桶</text><path d="M252.9 3230.3H290"/></g>
<g id="h96"><text x="263" y="3244.7">合理设置map以及reduce个数</text><path d="M252.9 3252.7H394"/></g>
<g id="h97"><text x="263" y="3266.7">并行执行</text><path d="M252.9 3275.3H308"/></g>
<g id="h98"><text x="263" y="3289.7">严格模式</text><path d="M252.9 3298H333.6"/></g>
<g id="h99"><text x="341.6" y="3289.7">通过设置防止一些危险操作</text><path d="M333.6 3298H461.5"/></g>
</g>
</svg>
